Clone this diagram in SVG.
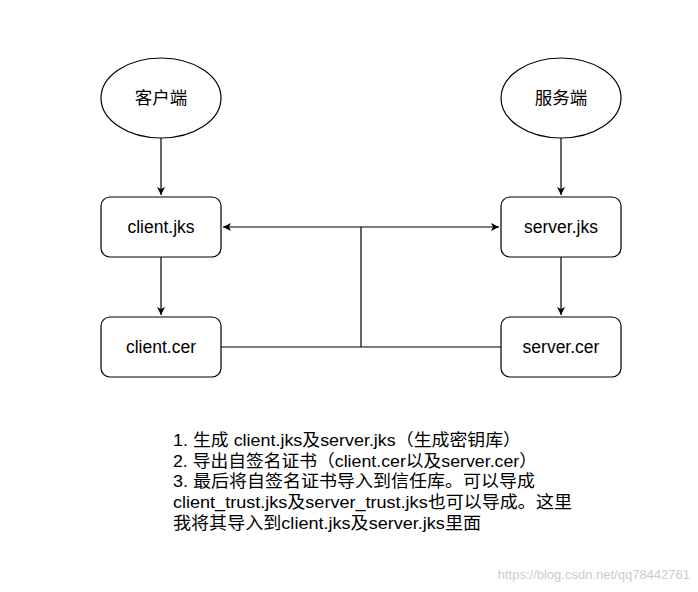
<svg xmlns="http://www.w3.org/2000/svg" width="698" height="592" viewBox="0 0 698 592">
<style>
.s{fill:#fff;stroke:#000;stroke-width:1.2}
.t{font-family:"Liberation Sans","Noto Sans CJK SC",sans-serif;font-size:17.5px;fill:#000;text-anchor:middle}
.b{font-family:"Liberation Sans","Noto Sans CJK SC",sans-serif;font-size:17px;fill:#000}
.c{fill:none;stroke:#000;stroke-width:1.2}
</style>
<defs><marker id="a" markerWidth="10" markerHeight="10" refX="9" refY="5" orient="auto" markerUnits="userSpaceOnUse"><path d="M1,1 L9,5 L1,9 L3,5 Z" fill="#000"/></marker></defs>
<rect width="698" height="592" fill="#fff"/>
<g id="connectors">
<path class="c" d="M161,138 V195" marker-end="url(#a)"/>
<path class="c" d="M561,138 V195" marker-end="url(#a)"/>
<path class="c" d="M161,257 V315" marker-end="url(#a)"/>
<path class="c" d="M561,257 V315" marker-end="url(#a)"/>
<path class="c" d="M221,347 H501"/>
<path class="c" d="M361,347 V227 H223" marker-end="url(#a)"/>
<path class="c" d="M361,227 H499" marker-end="url(#a)"/>
</g>
<g id="client"><ellipse class="s" cx="161" cy="98" rx="60" ry="40"/><text class="t" x="161" y="104">客户端</text></g>
<g id="server"><ellipse class="s" cx="561" cy="98" rx="60" ry="40"/><text class="t" x="561" y="104">服务端</text></g>
<g id="clientjks"><rect class="s" x="101" y="197" width="120" height="60" rx="9"/><text class="t" x="161" y="233">client.jks</text></g>
<g id="serverjks"><rect class="s" x="501" y="197" width="120" height="60" rx="9"/><text class="t" x="561" y="233">server.jks</text></g>
<g id="clientcer"><rect class="s" x="101" y="317" width="120" height="60" rx="9"/><text class="t" x="161" y="353">client.cer</text></g>
<g id="servercer"><rect class="s" x="501" y="317" width="120" height="60" rx="9"/><text class="t" x="561" y="353">server.cer</text></g>
<g id="note">
<text class="b" x="173" y="446" textLength="348" lengthAdjust="spacingAndGlyphs">1. 生成 client.jks及server.jks（生成密钥库）</text>
<text class="b" x="173" y="467" textLength="364" lengthAdjust="spacingAndGlyphs">2. 导出自签名证书（client.cer以及server.cer）</text>
<text class="b" x="173" y="487" textLength="362" lengthAdjust="spacingAndGlyphs">3. 最后将自签名证书导入到信任库。可以导成</text>
<text class="b" x="173" y="508" textLength="399" lengthAdjust="spacingAndGlyphs">client_trust.jks及server_trust.jks也可以导成。这里</text>
<text class="b" x="173" y="529" textLength="308" lengthAdjust="spacingAndGlyphs">我将其导入到client.jks及server.jks里面</text>
</g>
<text x="690" y="579" font-family="Liberation Sans,sans-serif" font-size="13" fill="#ccc" text-anchor="end">https://blog.csdn.net/qq78442761</text>
</svg>
